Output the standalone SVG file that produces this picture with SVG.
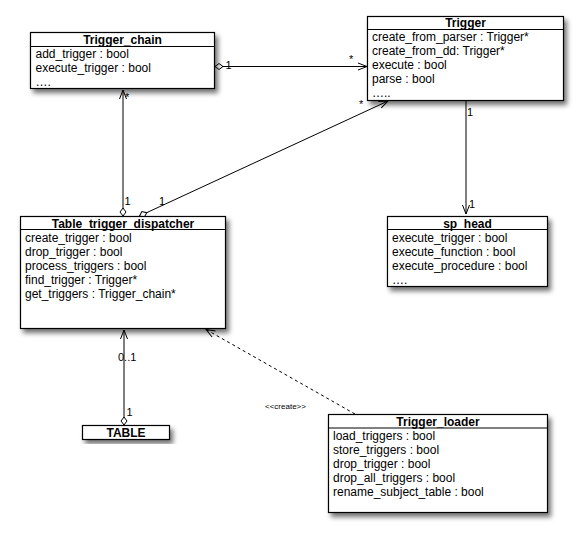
<svg xmlns="http://www.w3.org/2000/svg" width="584" height="537" viewBox="0 0 584 537">
<style>
  .box { fill: #ffffff; stroke: #000000; stroke-width: 1.2; }
  .sep { stroke: #000000; stroke-width: 1; }
  .title { font-family: "Liberation Sans", Arial, sans-serif; font-size: 12px; font-weight: bold; text-anchor: middle; fill: #000; }
  .attr { font-family: "Liberation Sans", Arial, sans-serif; font-size: 12px; fill: #000; }
  .lbl { font-family: "Liberation Sans", Arial, sans-serif; font-size: 11px; fill: #000; }
  .stereo { font-family: "Liberation Sans", Arial, sans-serif; font-size: 8px; fill: #000; }
  .conn { fill: none; stroke: #000000; stroke-width: 1; }
  .dash { stroke-dasharray: 3 3; }
</style>
<defs>
  <filter id="shadow" x="-10%" y="-10%" width="130%" height="140%">
    <feDropShadow dx="3" dy="4" stdDeviation="2.5" flood-color="#000" flood-opacity="0.55"/>
  </filter>
  <marker id="diamond" markerUnits="userSpaceOnUse" markerWidth="12" markerHeight="10" refX="0" refY="5" orient="auto" overflow="visible">
    <path d="M0,5 L4,2 L8,5 L4,8 Z" fill="#fff" stroke="#000" stroke-width="1"/>
  </marker>
  <marker id="arrow" markerUnits="userSpaceOnUse" markerWidth="12" markerHeight="10" refX="10" refY="5" orient="auto" overflow="visible">
    <path d="M1,1.5 L10,5 L1,8.5" fill="none" stroke="#000" stroke-width="1"/>
  </marker>
</defs>
<rect width="584" height="537" fill="#ffffff"/>

<g id="connectors">
  <line class="conn" x1="215" y1="66.5" x2="367" y2="66.5" marker-start="url(#diamond)" marker-end="url(#arrow)"/>
  <line class="conn" x1="139.5" y1="216" x2="388" y2="101" marker-start="url(#diamond)" marker-end="url(#arrow)"/>
  <line class="conn" x1="123" y1="216" x2="123" y2="90" marker-start="url(#diamond)" marker-end="url(#arrow)"/>
  <line class="conn" x1="466" y1="100.5" x2="466" y2="214" marker-end="url(#arrow)"/>
  <line class="conn" x1="124" y1="425" x2="124" y2="330" marker-start="url(#diamond)" marker-end="url(#arrow)"/>
  <line class="conn dash" x1="355" y1="414" x2="206" y2="329.5" marker-end="url(#arrow)"/>
  <text class="lbl" x="225.5" y="69">1</text>
  <text class="lbl" x="349" y="63">*</text>
  <text class="lbl" x="125" y="101">*</text>
  <text class="lbl" x="124.5" y="205">1</text>
  <text class="lbl" x="159" y="205">1</text>
  <text class="lbl" x="359" y="108">*</text>
  <text class="lbl" x="467" y="116">1</text>
  <text class="lbl" x="469" y="208">1</text>
  <text class="lbl" x="118" y="361">0..1</text>
  <text class="lbl" x="126.5" y="416">1</text>
  <text class="stereo" x="265" y="409">&lt;&lt;create&gt;&gt;</text>
</g>

<g id="Trigger_chain">
  <rect class="box" x="30.5" y="32.5" width="184" height="56" filter="url(#shadow)"/>
  <line class="sep" x1="30.5" y1="46.5" x2="214.5" y2="46.5"/>
  <text class="title" x="122.5" y="43.5">Trigger_chain</text>
  <text class="attr" x="35.5" y="57.5">add_trigger : bool</text>
  <text class="attr" x="35.5" y="71.5">execute_trigger : bool</text>
  <text class="attr" x="35.5" y="85.5">….</text>
</g>

<g id="Trigger">
  <rect class="box" x="367.5" y="16.5" width="196" height="84" filter="url(#shadow)"/>
  <line class="sep" x1="367.5" y1="29.5" x2="563.5" y2="29.5"/>
  <text class="title" x="465.5" y="27">Trigger</text>
  <text class="attr" x="372" y="40.5">create_from_parser : Trigger*</text>
  <text class="attr" x="372" y="54.5">create_from_dd: Trigger*</text>
  <text class="attr" x="372" y="68.5">execute : bool</text>
  <text class="attr" x="372" y="82.5">parse : bool</text>
  <text class="attr" x="372" y="96.5">…..</text>
</g>

<g id="Table_trigger_dispatcher">
  <rect class="box" x="20.5" y="216.5" width="205" height="112" filter="url(#shadow)"/>
  <line class="sep" x1="20.5" y1="229.5" x2="225.5" y2="229.5"/>
  <text class="title" x="123" y="227.5">Table_trigger_dispatcher</text>
  <text class="attr" x="25" y="242">create_trigger : bool</text>
  <text class="attr" x="25" y="256">drop_trigger : bool</text>
  <text class="attr" x="25" y="270">process_triggers : bool</text>
  <text class="attr" x="25" y="284">find_trigger : Trigger*</text>
  <text class="attr" x="25" y="298">get_triggers : Trigger_chain*</text>
</g>

<g id="sp_head">
  <rect class="box" x="387.5" y="216.5" width="160" height="70" filter="url(#shadow)"/>
  <line class="sep" x1="387.5" y1="229.5" x2="547.5" y2="229.5"/>
  <text class="title" x="467.5" y="227.5">sp_head</text>
  <text class="attr" x="392" y="242">execute_trigger : bool</text>
  <text class="attr" x="392" y="256">execute_function : bool</text>
  <text class="attr" x="392" y="270">execute_procedure : bool</text>
  <text class="attr" x="392" y="284">….</text>
</g>

<g id="TABLE">
  <rect class="box" x="82.5" y="425.5" width="87" height="14" filter="url(#shadow)"/>
  <text class="title" x="126" y="437">TABLE</text>
</g>

<g id="Trigger_loader">
  <rect class="box" x="328.5" y="414.5" width="219" height="98" filter="url(#shadow)"/>
  <line class="sep" x1="328.5" y1="428" x2="547.5" y2="428"/>
  <text class="title" x="438" y="426">Trigger_loader</text>
  <text class="attr" x="333" y="440">load_triggers : bool</text>
  <text class="attr" x="333" y="454">store_triggers : bool</text>
  <text class="attr" x="333" y="468">drop_trigger : bool</text>
  <text class="attr" x="333" y="482">drop_all_triggers : bool</text>
  <text class="attr" x="333" y="496">rename_subject_table : bool</text>
</g>
</svg>
